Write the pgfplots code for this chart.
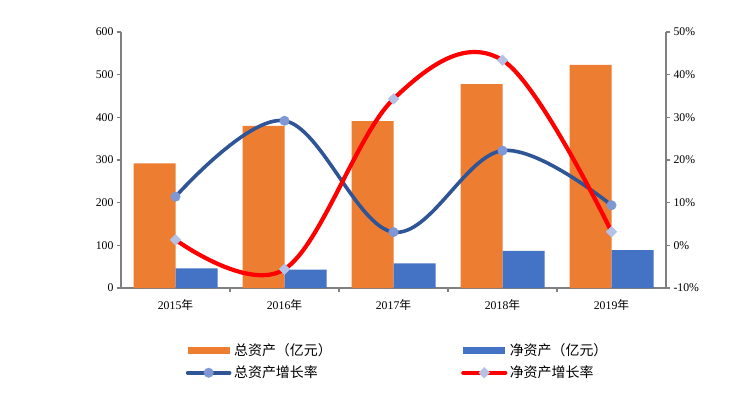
\documentclass[border=0pt]{standalone}
\usepackage{fontspec}
\setmainfont{Liberation Serif}
\newfontfamily\cjk{Noto Sans CJK SC}
\usepackage{pgfplots}
\pgfplotsset{compat=1.18}
\definecolor{orangeC}{HTML}{ED7D31}
\definecolor{blueC}{HTML}{4472C4}
\definecolor{lineblue}{HTML}{2F5597}
\definecolor{mkblue}{HTML}{7F97D5}
\definecolor{mkdiam}{HTML}{B4C2E6}
\definecolor{axgray}{HTML}{808080}
\begin{document}
\begin{tikzpicture}
\useasboundingbox (-121bp,-108bp) rectangle (615bp,288bp);
\pgfplotsset{
 common/.style={
  scale only axis, width=545bp, height=256bp,
  xmin=-0.5, xmax=4.5,
  axis line style={axgray, line width=1.3bp},
  tick style={axgray, line width=1.3bp},
  tick align=outside,
  major tick length=4bp,
  tick label style={font=\fontsize{11.8}{13}\selectfont, text=black},
  /pgf/number format/assume math mode=true,
  clip=false,
 }
}
\begin{axis}[common, at={(0,0)}, anchor=south west,
  axis x line*=bottom, axis y line*=left,
  ymin=0, ymax=600, ytick={0,100,...,600},
  xtick={0.5,1.5,2.5,3.5}, xticklabels={},
  extra x ticks={0,1,2,3,4},
  extra x tick labels={2015{\cjk 年},2016{\cjk 年},2017{\cjk 年},2018{\cjk 年},2019{\cjk 年}},
  extra x tick style={major tick length=0pt, tick label style={yshift=-8bp}},
  ybar=0pt, bar width=42bp,
]
\addplot[fill=orangeC, draw=none] coordinates {(0,292) (1,380) (2,391) (3,478) (4,523)};
\addplot[fill=blueC, draw=none] coordinates {(0,46) (1,43) (2,58) (3,87) (4,89)};
\end{axis}
\begin{axis}[common, at={(0,0)}, anchor=south west,
  axis x line=none, axis y line*=right,
  ymin=-10, ymax=50, ytick={-10,0,...,50},
  yticklabels={-10\%,0\%,10\%,20\%,30\%,40\%,50\%},
  legend columns=2,
  legend cell align=left,
  legend image code/.code={\draw[mark repeat=2,mark phase=2,#1] plot coordinates {(0bp,0bp) (21bp,0bp) (42bp,0bp)};},
  legend style={at={(axis description cs:0.110,-0.205)}, anchor=north west,
    draw=none, fill=none, font=\cjk\fontsize{14}{16}\selectfont,
    nodes={inner sep=1bp},
    row sep=7bp,
    /tikz/column 2/.style={column sep=127bp}},
]
\addlegendimage{draw=orangeC, line width=7bp, mark=none}
\addlegendimage{draw=blueC, line width=7bp, mark=none}
\addplot[lineblue, line width=3.6bp, smooth, tension=0.6, line cap=round,
  mark=*, mark size=4.8bp, mark options={solid, fill=mkblue, draw=mkblue, line width=0.3bp}]
  coordinates {(0,11.4) (1,29.2) (2,3.1) (3,22.2) (4,9.4)};
\addplot[red, line width=4.2bp, smooth, tension=0.6, line cap=round,
  mark=square*, mark size=3.8bp, mark options={solid, rotate=45, fill=mkdiam, draw=mkdiam, line width=0.3bp}]
  coordinates {(0,1.3) (1,-5.6) (2,34.3) (3,43.4) (4,3.2)};
\legend{总资产（亿元）,净资产（亿元）,总资产增长率,净资产增长率}
\end{axis}
\end{tikzpicture}
\end{document}
